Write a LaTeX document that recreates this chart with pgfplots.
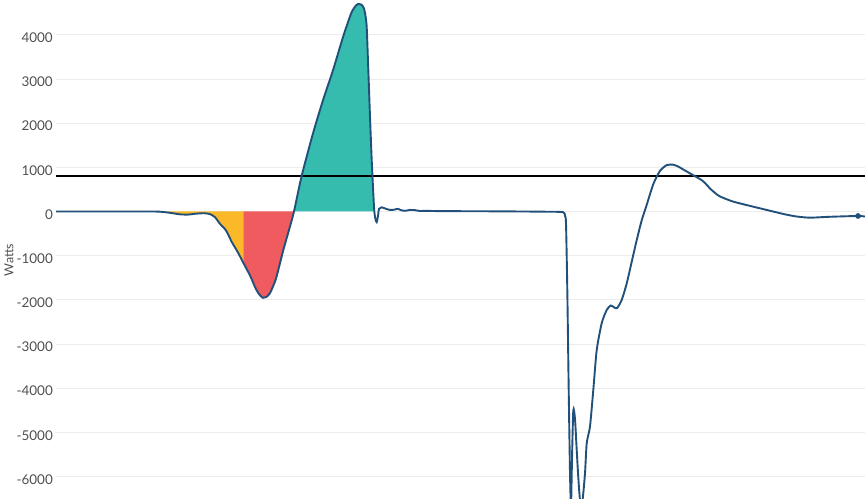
\documentclass[border=0pt]{standalone}
\usepackage{pgfplots}
\pgfplotsset{compat=1.18}
\usepgfplotslibrary{fillbetween}
\usepackage{fontspec}
\setmainfont{Lato}
\definecolor{linec}{HTML}{21507A}
\definecolor{yel}{HTML}{FBB829}
\definecolor{redc}{HTML}{EF5B5E}
\definecolor{teal2}{HTML}{35BCAE}
\definecolor{gridc}{HTML}{ECECEC}
\definecolor{labc}{HTML}{505050}
\pgfplotstableread{
x y
56 0
120 0
150 0
160 -5
170 -30
180 -65
188 -70
196 -50
204 -40
210 -60
215 -130
220 -280
226 -430
232 -700
238 -930
243 -1150
250 -1450
256 -1760
260 -1900
263 -1955
266 -1940
270 -1850
276 -1520
283 -900
290 -340
294 0
301.5 790
313 1770
323 2520
333 3200
343 3950
351 4480
355 4640
358 4700
361 4690
364 4600
366.5 4250
368 3400
370 2150
371.7 1170
373.3 410
374.3 0
375.5 -180
376.7 -240
378 -100
379 60
381.7 95
386 60
390 35
394 40
398 60
401 30
405 15
410 35
415 30
420 10
425 15
440 8
480 5
520 0
545 -5
563 -15
565 -100
566 -270
567.3 -1780
568.7 -4040
570 -5930
571 -6700
572 -5600
573.3 -4500
575 -4700
576.7 -5400
578.5 -6100
580.5 -6650
582.5 -6550
585 -5930
586.7 -5250
590 -4870
593.3 -4040
596.7 -3140
601.7 -2530
606.7 -2230
610.7 -2130
614 -2170
617 -2190
621.7 -2005
626.7 -1630
631.7 -1140
636.7 -650
641.7 -200
646.7 150
653.3 620
660 920
666.7 1050
673 1060
678 1020
683.3 950
693.3 820
701.7 710
706 620
710 520
715 420
720 340
733 225
753 110
773 0
786 -70
797 -115
810 -140
830 -120
858 -102
865 -115
}\powertable
\begin{document}
\begin{tikzpicture}
\begin{axis}[
  at={(0,0)}, anchor=south west,
  scale only axis,
  width=809bp, height=499bp,
  xmin=56, xmax=865,
  ymin=-6512, ymax=4790,
  xtick=\empty,
  ytick={-6000,-5000,-4000,-3000,-2000,-1000,0,1000,2000,3000,4000},
  yticklabels={-6000,-5000,-4000,-3000,-2000,-1000,0,1000,2000,3000,4000},
  yticklabel style={font=\fontsize{13.5}{14}\selectfont, text=labc, inner sep=0pt, xshift=-3bp, yshift=-3bp},
  ymajorgrids,
  grid style={gridc, line width=0.8bp},
  axis line style={draw=none},
  tick style={draw=none},
  ylabel={Watts},
  ylabel style={at={(axis description cs:-0.058,0.479)}, anchor=center, font=\fontsize{12.5}{13}\selectfont, text=labc},
]
\addplot[draw=none, name path=zero, forget plot] coordinates {(56,0) (865,0)};
\addplot[draw=none, name path=curve, smooth, tension=0.4, forget plot] table[x=x,y=y] {\powertable};
\addplot[fill=yel, draw=none] fill between[of=curve and zero, soft clip={domain=160:243.3}];
\addplot[fill=redc, draw=none] fill between[of=curve and zero, soft clip={domain=243.3:294}];
\addplot[fill=teal2, draw=none] fill between[of=curve and zero, soft clip={domain=294:374.3}];
\addplot[black, line width=1.8bp] coordinates {(56,804) (865,804)};
\addplot[linec, line width=1.9bp, smooth, tension=0.4] table[x=x,y=y] {\powertable};
\addplot[linec, only marks, mark=*, mark size=2.6bp] coordinates {(858,-102)};
\end{axis}
\pgfresetboundingbox
\path[use as bounding box] (-56bp,0) rectangle (809bp,499bp);
\end{tikzpicture}
\end{document}
